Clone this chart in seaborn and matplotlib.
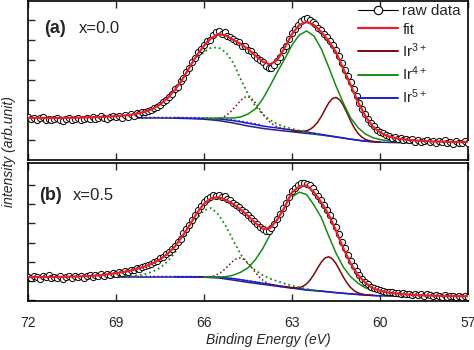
import numpy as np
import pandas as pd
import seaborn as sns
import matplotlib.pyplot as plt
from matplotlib.lines import Line2D

# ---- data (arb. units) ----
energy_q = np.linspace(72, 57, 61)     # 0.25 eV grid
energy_h = np.linspace(72, 57, 31)     # 0.5 eV grid
energy_raw = np.linspace(72, 57, 151)  # 0.1 eV grid

# panel (a) x=0.0
raw_a = [2.15, 2.05, 2.12, 2.02, 2.08, 2.14, 2.00, 2.06, 1.98, 2.04,
         2.10, 2.02, 1.97, 2.06, 2.11, 2.00, 2.04, 2.09, 1.99, 2.05,
         2.12, 2.07, 2.15, 2.06, 2.10, 2.18, 2.08, 2.03, 2.13, 2.20,
         2.14, 2.22, 2.10, 2.25, 2.17, 2.28, 2.22, 2.33, 2.30, 2.38,
         2.40, 2.46, 2.52, 2.60, 2.66, 2.76, 2.88, 2.98, 3.14, 3.30,
         3.55, 3.66, 3.95, 4.10, 4.42, 4.60, 4.92, 5.08, 5.38, 5.55,
         5.75, 5.95, 6.02, 6.25, 6.38, 6.45, 6.30, 6.40, 6.22, 6.15,
         6.05, 5.95, 5.88, 5.72, 5.70, 5.52, 5.45, 5.25, 5.10, 4.98,
         4.90, 4.72, 4.62, 4.60, 4.75, 4.95, 5.15, 5.50, 5.70, 6.05,
         6.35, 6.55, 6.75, 6.95, 7.05, 7.10, 7.02, 6.92, 6.80, 6.62,
         6.48, 6.30, 6.15, 5.95, 5.75, 5.50, 5.20, 4.85, 4.50, 4.20,
         3.88, 3.55, 3.20, 2.85, 2.55, 2.30, 2.05, 1.85, 1.68, 1.52,
         1.42, 1.35, 1.25, 1.20, 1.12, 1.14, 1.05, 1.08, 1.00, 1.03,
         0.98, 1.05, 0.92, 1.00, 0.88, 0.96, 1.02, 0.90, 0.97, 0.86,
         0.94, 0.88, 0.99, 0.85, 0.92, 0.80, 0.95, 0.87, 0.83, 0.93,
         0.86]
fit_a = [2.10, 2.10, 2.10, 2.10, 2.10, 2.11, 2.11, 2.12, 2.13, 2.14,
         2.15, 2.17, 2.19, 2.22, 2.26, 2.33, 2.42, 2.56, 2.78, 3.08,
         3.50, 4.00, 4.62, 5.22, 5.72, 6.10, 6.30, 6.22, 6.00, 5.80,
         5.55, 5.22, 4.92, 4.78, 5.00, 5.62, 6.30, 6.75, 6.90, 6.75,
         6.40, 5.95, 5.40, 4.55, 3.75, 2.90, 2.20, 1.68, 1.38, 1.20,
         1.10, 1.04, 1.00, 0.97, 0.95, 0.93, 0.92, 0.91, 0.90, 0.90,
         0.90]
bg_a = [2.10, 2.10, 2.10, 2.10, 2.10, 2.10, 2.10, 2.10, 2.10, 2.10,
        2.09, 2.07, 2.04, 1.97, 1.85, 1.70, 1.58, 1.49, 1.41, 1.33,
        1.25, 1.15, 1.04, 0.94, 0.89, 0.87, 0.86, 0.85, 0.85, 0.85,
        0.85]
ir4_72_a = [2.09, 2.08, 2.10, 2.10, 2.10, 2.15, 2.30, 2.55, 3.05, 3.70,
            4.40, 5.05, 5.75, 6.25, 6.45, 6.20, 5.55, 4.65, 3.70, 2.85,
            2.10, 1.62, 1.30, 1.12, 1.02, 0.97, 0.93, 0.90, 0.88, 0.87,
            0.86]
ir4_52_a = [2.11, 2.13, 2.15, 2.19, 2.25, 2.36, 2.55, 2.85, 3.30, 3.85,
            4.45, 5.00, 5.40, 5.62, 5.62, 5.38, 4.85, 4.05, 3.30, 2.70,
            2.28, 2.00, 1.80, 1.66, 1.56, 1.47, 1.40, 1.33, 1.26]
ir3_72_a = [1.45, 1.44, 1.43, 1.43, 1.46, 1.54, 1.68, 1.89, 2.18, 2.52,
            2.85, 3.07, 3.13, 3.01, 2.73, 2.35, 1.95, 1.60, 1.33, 1.15,
            1.03, 0.97, 0.93, 0.91, 0.89]
ir3_52_a = [2.06, 2.05, 2.05, 2.06, 2.08, 2.12, 2.22, 2.36, 2.56, 2.77,
            2.98, 3.13, 3.17, 3.07, 2.86, 2.60, 2.32, 2.08, 1.89, 1.75,
            1.66, 1.60, 1.56, 1.52, 1.50]
ir5_72_a = [2.10, 2.09, 2.08, 2.05, 1.97, 1.84, 1.70, 1.60, 1.50, 1.40,
            1.28, 1.16, 1.04, 0.94, 0.89]
ir5_52_a = [2.13, 2.13, 2.13, 2.13, 2.13, 2.13, 2.13, 2.13, 2.13, 2.13,
            2.13, 2.12, 2.11, 2.08, 2.00, 1.88, 1.74]

# panel (b) x=0.5
raw_b = [1.22, 1.15, 1.28, 1.18, 1.12, 1.25, 1.20, 1.30, 1.14, 1.22,
         1.17, 1.26, 1.10, 1.21, 1.28, 1.15, 1.23, 1.19, 1.27, 1.13,
         1.24, 1.30, 1.20, 1.32, 1.25, 1.35, 1.28, 1.38, 1.33, 1.40,
         1.36, 1.45, 1.42, 1.50, 1.48, 1.58, 1.55, 1.65, 1.62, 1.73,
         1.80, 1.85, 1.86, 2.00, 2.02, 2.18, 2.22, 2.38, 2.50, 2.68,
         2.82, 3.02, 3.18, 3.48, 3.70, 3.92, 4.20, 4.42, 4.70, 4.90,
         5.12, 5.28, 5.40, 5.48, 5.45, 5.50, 5.38, 5.42, 5.28, 5.20,
         5.08, 4.95, 4.85, 4.70, 4.60, 4.45, 4.30, 4.12, 3.98, 3.82,
         3.70, 3.62, 3.60, 3.78, 3.95, 4.22, 4.48, 4.78, 5.05, 5.38,
         5.70, 5.85, 6.00, 6.10, 6.12, 6.05, 6.00, 5.82, 5.65, 5.45,
         5.22, 4.98, 4.72, 4.45, 4.10, 3.80, 3.42, 3.05, 2.70, 2.35,
         2.02, 1.78, 1.52, 1.30, 1.10, 0.95, 0.82, 0.70, 0.62, 0.55,
         0.50, 0.46, 0.44, 0.40, 0.42, 0.36, 0.38, 0.33, 0.36, 0.30,
         0.32, 0.27, 0.33, 0.25, 0.30, 0.22, 0.29, 0.24, 0.20, 0.27,
         0.22, 0.18, 0.26, 0.16, 0.23, 0.19, 0.14, 0.22, 0.17, 0.21,
         0.18]
fit_b = [1.20, 1.20, 1.20, 1.20, 1.21, 1.21, 1.22, 1.23, 1.25, 1.27,
         1.30, 1.35, 1.40, 1.46, 1.54, 1.64, 1.76, 1.92, 2.12, 2.40,
         2.78, 3.30, 3.88, 4.52, 5.02, 5.32, 5.36, 5.22, 5.00, 4.72,
         4.40, 4.02, 3.72, 3.75, 4.20, 4.85, 5.62, 5.92, 5.98, 5.62,
         5.10, 4.45, 3.62, 2.70, 1.90, 1.30, 0.90, 0.62, 0.48, 0.40,
         0.35, 0.31, 0.28, 0.26, 0.24, 0.23, 0.22, 0.21, 0.20, 0.20,
         0.20]
bg_b = [1.20, 1.20, 1.20, 1.20, 1.20, 1.20, 1.20, 1.20, 1.20, 1.20,
        1.20, 1.20, 1.19, 1.15, 1.04, 0.92, 0.82, 0.72, 0.62, 0.52,
        0.46, 0.38, 0.32, 0.26, 0.22, 0.20, 0.18, 0.17, 0.16, 0.16,
        0.16]
ir4_72_b = [1.20, 1.20, 1.20, 1.22, 1.30, 1.45, 1.68, 2.10, 2.68, 3.40,
            4.20, 4.88, 5.38, 5.63, 5.50, 4.95, 4.30, 3.35, 2.45, 1.72,
            1.22, 0.88, 0.64, 0.48, 0.38, 0.32, 0.28, 0.25, 0.23]
ir4_52_b = [1.22, 1.23, 1.25, 1.29, 1.36, 1.48, 1.68, 2.00, 2.45, 3.02,
            3.65, 4.25, 4.68, 4.80, 4.45, 3.85, 3.10, 2.38, 1.88, 1.55,
            1.30, 1.12, 0.98, 0.86, 0.75, 0.66, 0.58, 0.51, 0.46]
ir3_72_b = [0.67, 0.66, 0.63, 0.64, 0.65, 0.72, 0.85, 1.06, 1.34, 1.67,
            1.98, 2.19, 2.26, 2.15, 1.90, 1.56, 1.20, 0.89, 0.65, 0.48,
            0.37, 0.32, 0.27, 0.26, 0.24]
ir3_52_b = [1.20, 1.20, 1.20, 1.21, 1.23, 1.28, 1.37, 1.49, 1.67, 1.86,
            2.05, 2.17, 2.20, 2.11, 1.93, 1.69, 1.44, 1.22, 1.04, 0.92,
            0.83, 0.78, 0.73, 0.70, 0.67]
ir5_72_b = [1.21, 1.21, 1.21, 1.19, 1.12, 1.00, 0.88, 0.76, 0.65, 0.54,
            0.47, 0.39, 0.32, 0.26, 0.22]
ir5_52_b = [1.23, 1.23, 1.23, 1.23, 1.23, 1.23, 1.23, 1.23, 1.23, 1.23,
            1.23, 1.23, 1.22, 1.19, 1.12, 1.01, 0.89]

e_ir4_72 = np.linspace(66, 58.5, 31)
e_ir4_52 = np.linspace(69, 62, 29)
e_ir4_72_b = np.linspace(66, 59, 29)
e_ir3_72_a = np.linspace(63, 60, 25)
e_ir3_52_a = np.linspace(66, 63, 25)
e_ir3_72_b = np.linspace(63.25, 60.25, 25)
e_ir3_52_b = np.linspace(66.25, 63.25, 25)
e_ir5_72 = np.linspace(67, 60, 15)
e_ir5_52 = np.linspace(72, 64, 17)

RED = '#ee1d23'
MAROON = '#7a0a0a'
GREEN = '#148c14'
BLUE = '#1c1cd6'
NAVY = '#262680'

sns.set_style("ticks")
plt.rcParams['font.family'] = ['Liberation Sans', 'DejaVu Sans']
plt.rcParams['mathtext.default'] = 'regular'

fig = plt.figure(figsize=(4.74, 3.5), dpi=100)
ax_a = fig.add_axes([28/474, 1 - 160/350, 440/474, 159/350])
ax_b = fig.add_axes([28/474, 1 - 301/350, 440/474, 138/350])


def draw_panel(ax, raw, fit, bg, ir4_72, ir4_52, ir3_72, ir3_52, ir5_72, ir5_52,
               e4_72, e4_52, e3_72, e3_52):
    sns.lineplot(x=energy_h, y=bg, ax=ax, color=NAVY, lw=1.1, sort=False)
    sns.lineplot(x=e_ir5_72, y=ir5_72, ax=ax, color=BLUE, lw=1.1, sort=False)
    sns.lineplot(x=e_ir5_52, y=ir5_52, ax=ax, color=BLUE, lw=1.1, ls=':', sort=False)
    sns.lineplot(x=e3_72, y=ir3_72, ax=ax, color=MAROON, lw=1.1, sort=False)
    sns.lineplot(x=e3_52, y=ir3_52, ax=ax, color=MAROON, lw=1.1, ls=':', sort=False)
    sns.lineplot(x=e4_72, y=ir4_72, ax=ax, color=GREEN, lw=1.1, sort=False)
    sns.lineplot(x=e4_52, y=ir4_52, ax=ax, color=GREEN, lw=1.3, ls=':', sort=False)
    sns.scatterplot(x=energy_raw, y=raw, ax=ax, s=20, color='white',
                    edgecolor='black', linewidth=0.7, zorder=3)
    sns.lineplot(x=energy_q, y=fit, ax=ax, color=RED, lw=1.6, sort=False, zorder=4)
    ax.set_xlim(72, 57)
    ax.set_xticks([72, 69, 66, 63, 60, 57])
    ax.set_xlabel('')
    ax.set_ylabel('')
    ax.tick_params(direction='in', length=5, width=1.0, top=True, right=False,
                   labelsize=10, pad=11)
    ax.tick_params(axis='y', labelleft=False)
    for sp in ax.spines.values():
        sp.set_linewidth(1.2)
        sp.set_color('black')
        sp.set_visible(True)


draw_panel(ax_a, raw_a, fit_a, bg_a, ir4_72_a, ir4_52_a, ir3_72_a, ir3_52_a,
           ir5_72_a, ir5_52_a, e_ir4_72, e_ir4_52, e_ir3_72_a, e_ir3_52_a)
draw_panel(ax_b, raw_b, fit_b, bg_b, ir4_72_b, ir4_52_b, ir3_72_b, ir3_52_b,
           ir5_72_b, ir5_52_b, e_ir4_72_b, e_ir4_52, e_ir3_72_b, e_ir3_52_b)

ax_a.set_ylim(0, 7.95)
ax_a.set_yticks(range(1, 8))
ax_a.tick_params(axis='x', labelbottom=False)
ax_b.set_ylim(-0.05, 7.15)
ax_b.set_yticks(range(0, 7))

ax_a.text(0.036, 0.83, '(a)', transform=ax_a.transAxes, fontsize=13,
          fontweight='bold', va='center', ha='left')
ax_a.text(0.116, 0.83, 'x=0.0', transform=ax_a.transAxes, fontsize=12,
          va='center', ha='left')
ax_b.text(0.025, 0.768, '(b)', transform=ax_b.transAxes, fontsize=13,
          fontweight='bold', va='center', ha='left')
ax_b.text(0.102, 0.768, 'x=0.5', transform=ax_b.transAxes, fontsize=12,
          va='center', ha='left')

handles = [
    Line2D([], [], color='black', lw=0.8, marker='o', ms=6, mfc='white', mec='black', mew=0.8),
    Line2D([], [], color=RED, lw=1.6),
    Line2D([], [], color=MAROON, lw=1.4),
    Line2D([], [], color=GREEN, lw=1.4),
    Line2D([], [], color=BLUE, lw=1.4),
]
labels = ['raw data', 'fit', 'Ir$^{3+}$', 'Ir$^{4+}$', 'Ir$^{5+}$']
ax_a.legend(handles, labels, loc='upper left', bbox_to_anchor=(358/474, 1 - 4/350),
            bbox_transform=fig.transFigure, frameon=False, fontsize=11,
            handlelength=2.6, handletextpad=0.3, labelspacing=0.3,
            borderpad=0, borderaxespad=0)

fig.text(9/474, 1 - 152/350, 'intensity (arb.unit)', rotation=90, fontsize=10,
         style='italic', ha='center', va='center')
fig.text(268/474, 1 - 340/350, 'Binding Energy (eV)', fontsize=10,
         style='italic', ha='center', va='center')

fig.savefig('out.png', dpi=100)
